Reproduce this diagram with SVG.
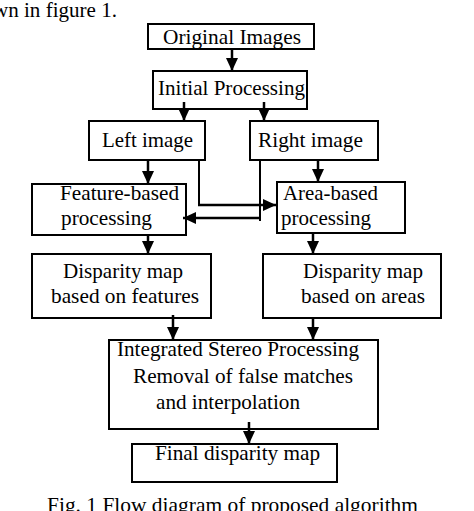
<svg xmlns="http://www.w3.org/2000/svg" width="474" height="511" viewBox="0 0 474 511">
<style>
  .box { fill: #fff; stroke: #000; stroke-width: 2; }
  .lbl { font-family: "Liberation Serif", "DejaVu Serif", serif; font-size: 22px; fill: #000; }
  .con { fill: none; stroke: #000; stroke-width: 2.5; }
</style>
<defs>
  <marker id="ah" viewBox="0 0 13 12" refX="13" refY="6" markerWidth="13" markerHeight="12" markerUnits="userSpaceOnUse" orient="auto">
    <path d="M0,0 L13,6 L0,12 z" fill="#000"/>
  </marker>
</defs>
<rect x="0" y="0" width="474" height="511" fill="#fff"/>
<text class="lbl" x="-7" y="17" textLength="124" lengthAdjust="spacingAndGlyphs">wn in figure 1.</text>

<g id="orig"><rect class="box" x="148" y="24" width="166" height="25"/>
<text class="lbl" x="163" y="44" textLength="138" lengthAdjust="spacingAndGlyphs">Original Images</text></g>
<g id="init"><rect class="box" x="153" y="71" width="154" height="38"/>
<text class="lbl" x="158" y="95" textLength="147" lengthAdjust="spacingAndGlyphs">Initial Processing</text></g>
<g id="left"><rect class="box" x="89" y="121" width="116" height="39"/>
<text class="lbl" x="102" y="147" textLength="91" lengthAdjust="spacingAndGlyphs">Left image</text></g>
<g id="right"><rect class="box" x="250" y="121" width="128" height="39"/>
<text class="lbl" x="258" y="147" textLength="105" lengthAdjust="spacingAndGlyphs">Right image</text></g>
<g id="feature"><rect class="box" x="32" y="184" width="154" height="51"/>
<text class="lbl" x="60" y="200" textLength="119" lengthAdjust="spacingAndGlyphs">Feature-based</text>
<text class="lbl" x="61" y="225" textLength="91" lengthAdjust="spacingAndGlyphs">processing</text></g>
<g id="area"><rect class="box" x="277" y="182" width="128" height="51"/>
<text class="lbl" x="283" y="200" textLength="95" lengthAdjust="spacingAndGlyphs">Area-based</text>
<text class="lbl" x="281" y="225" textLength="90" lengthAdjust="spacingAndGlyphs">processing</text></g>
<g id="dispL"><rect class="box" x="32" y="254" width="179" height="64"/>
<text class="lbl" x="63" y="278" textLength="120" lengthAdjust="spacingAndGlyphs">Disparity map</text>
<text class="lbl" x="51" y="303" textLength="148" lengthAdjust="spacingAndGlyphs">based on features</text></g>
<g id="dispR"><rect class="box" x="263" y="254" width="178" height="64"/>
<text class="lbl" x="303" y="278" textLength="120" lengthAdjust="spacingAndGlyphs">Disparity map</text>
<text class="lbl" x="301" y="303" textLength="124" lengthAdjust="spacingAndGlyphs">based on areas</text></g>
<g id="integ"><rect class="box" x="109" y="340" width="269" height="89"/>
<text class="lbl" x="117" y="356" textLength="242" lengthAdjust="spacingAndGlyphs">Integrated Stereo Processing</text>
<text class="lbl" x="133" y="383" textLength="220" lengthAdjust="spacingAndGlyphs">Removal of false matches</text>
<text class="lbl" x="156" y="409" textLength="144" lengthAdjust="spacingAndGlyphs">and interpolation</text></g>
<g id="final"><rect class="box" x="132" y="444" width="205" height="38"/>
<text class="lbl" x="155" y="460" textLength="165" lengthAdjust="spacingAndGlyphs">Final disparity map</text></g>

<g id="connectors">
  <path class="con" d="M232,49 V71" marker-end="url(#ah)"/>
  <path class="con" d="M184,102 V121" marker-end="url(#ah)"/>
  <path class="con" d="M264,102 V121" marker-end="url(#ah)"/>
  <path class="con" d="M148,160 V184" marker-end="url(#ah)"/>
  <path class="con" d="M318,160 V182" marker-end="url(#ah)"/>
  <path class="con" style="stroke-width:2" d="M199,160 V205"/>
  <path class="con" d="M198,205 H276" marker-end="url(#ah)"/>
  <path class="con" style="stroke-width:2" d="M260,160 V221"/>
  <path class="con" d="M261,218 H183" marker-end="url(#ah)"/>
  <path class="con" d="M148,235 V254" marker-end="url(#ah)"/>
  <path class="con" d="M313,233 V254" marker-end="url(#ah)"/>
  <path class="con" d="M173,315 V340" marker-end="url(#ah)"/>
  <path class="con" d="M313,318 V340" marker-end="url(#ah)"/>
  <path class="con" d="M249,422 V444" marker-end="url(#ah)"/>
</g>

<text class="lbl" x="47" y="512" textLength="371" lengthAdjust="spacingAndGlyphs">Fig. 1 Flow diagram of proposed algorithm</text>
</svg>
